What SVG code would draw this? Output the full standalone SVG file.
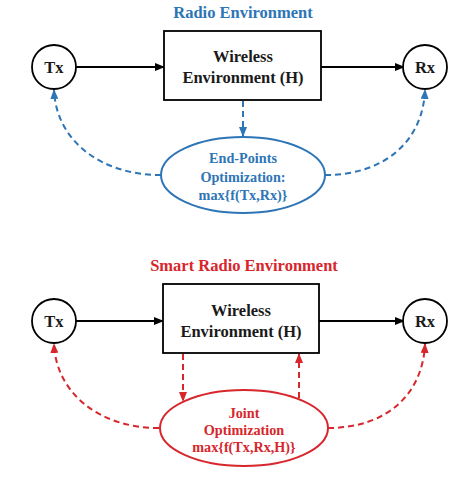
<svg xmlns="http://www.w3.org/2000/svg" width="474" height="479" viewBox="0 0 474 479">
<style>
text{font-family:'Liberation Serif','DejaVu Serif',serif;font-weight:bold;text-anchor:middle}
.t{font-size:16.5px;fill:#1a1a1a}
.blue{fill:#2e75b6}
.red{fill:#d7262c}
.n{fill:#fff;stroke:#000;stroke-width:1.8}
.solid{fill:none;stroke:#000;stroke-width:1.8}
.db{fill:none;stroke:#2e75b6;stroke-width:2;stroke-dasharray:6 4}
.dr{fill:none;stroke:#d7262c;stroke-width:2;stroke-dasharray:6 4}
.eb{fill:#fff;stroke:#2e75b6;stroke-width:2}
.er{fill:#fff;stroke:#d7262c;stroke-width:2}
.s{font-size:14.2px}
</style>
<defs>
<marker id="ak" markerWidth="10" markerHeight="8" refX="9" refY="4" orient="auto" markerUnits="userSpaceOnUse"><path d="M0,0 L10,4 L0,8 Z" fill="#000"/></marker>
<marker id="ab" markerWidth="10" markerHeight="8" refX="9" refY="4" orient="auto" markerUnits="userSpaceOnUse"><path d="M0,0 L10,4 L0,8 Z" fill="#2e75b6"/></marker>
<marker id="ar" markerWidth="10" markerHeight="8" refX="9" refY="4" orient="auto" markerUnits="userSpaceOnUse"><path d="M0,0 L10,4 L0,8 Z" fill="#d7262c"/></marker>
</defs>

<g font-family="Liberation Serif, DejaVu Serif, serif">
<text x="243" y="18" class="blue" font-size="16.5">Radio Environment</text>
<text x="244" y="271" class="red" font-size="16.5">Smart Radio Environment</text>

<g id="connectors">
<line x1="76" y1="67" x2="164" y2="67" class="solid" marker-end="url(#ak)"/>
<line x1="321" y1="67" x2="404" y2="67" class="solid" marker-end="url(#ak)"/>
<line x1="243" y1="101" x2="243" y2="136" class="db" marker-end="url(#ab)"/>
<path d="M161,175 C100,175 56,140 54,90" class="db" marker-end="url(#ab)"/>
<path d="M325,175 C386,175 423,140 425,90" class="db" marker-end="url(#ab)"/>

<line x1="76" y1="321" x2="163" y2="321" class="solid" marker-end="url(#ak)"/>
<line x1="319" y1="321" x2="404" y2="321" class="solid" marker-end="url(#ak)"/>
<line x1="183" y1="354" x2="183" y2="401" class="dr" marker-end="url(#ar)"/>
<line x1="299" y1="398" x2="299" y2="354" class="dr" marker-end="url(#ar)"/>
<path d="M159,428 C98,428 56,392 54,344" class="dr" marker-end="url(#ar)"/>
<path d="M328,428 C389,428 423,392 425,344" class="dr" marker-end="url(#ar)"/>
</g>

<g id="tx1"><circle cx="54" cy="67" r="22" class="n"/><text x="54" y="73" class="t">Tx</text></g>
<g id="rx1"><circle cx="425" cy="67" r="22" class="n"/><text x="425" y="73" class="t">Rx</text></g>
<g id="env1"><rect x="164" y="31" width="157" height="69" class="n"/><text x="243" y="62" class="t">Wireless</text><text x="243" y="83" class="t">Environment (H)</text></g>
<g id="opt1"><ellipse cx="243" cy="175" rx="82" ry="38" class="eb"/>
<text x="243" y="163" class="blue s">End-Points</text><text x="243" y="182" class="blue s">Optimization:</text><text x="243" y="200" class="blue s">max{f(Tx,Rx)}</text></g>

<g id="tx2"><circle cx="54" cy="321" r="22" class="n"/><text x="54" y="327" class="t">Tx</text></g>
<g id="rx2"><circle cx="425" cy="321" r="22" class="n"/><text x="425" y="327" class="t">Rx</text></g>
<g id="env2"><rect x="163" y="284" width="156" height="69" class="n"/><text x="241" y="316" class="t">Wireless</text><text x="241" y="337" class="t">Environment (H)</text></g>
<g id="opt2"><ellipse cx="244" cy="428" rx="84" ry="38" class="er"/>
<text x="244" y="418" class="red s">Joint</text><text x="244" y="435" class="red s">Optimization</text><text x="244" y="452" class="red s">max{f(Tx,Rx,H)}</text></g>
</g>
</svg>
